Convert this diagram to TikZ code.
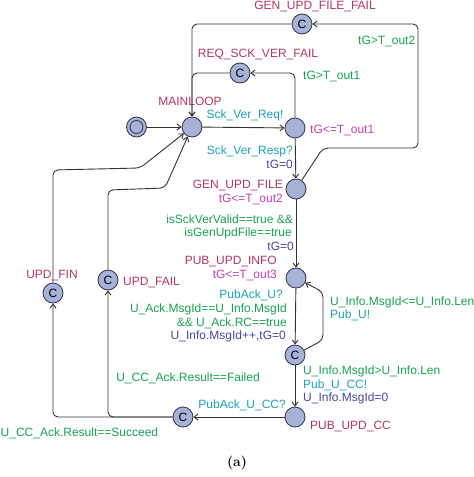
\documentclass[tikz,border=0pt]{standalone}
\usepackage{fontspec}
\setsansfont{Liberation Sans}
\usepackage{tikz}
\usetikzlibrary{arrows.meta}

\definecolor{locname}{RGB}{180,52,104}
\definecolor{invcol}{RGB}{196,64,176}
\definecolor{guardcol}{RGB}{24,164,80}
\definecolor{synccol}{RGB}{24,164,184}
\definecolor{updcol}{RGB}{70,70,168}
\definecolor{locfill}{RGB}{166,178,214}
\definecolor{locline}{RGB}{50,50,80}

\begin{document}
\begin{tikzpicture}[x=1bp, y=-1bp, >={Straight Barb[length=4bp,width=6bp]},
    loc/.style = {circle, draw=locline, fill=locfill, minimum size=20bp, inner sep=0pt, line width=.8bp,
                  font=\sffamily\fontsize{12bp}{12bp}\selectfont},
    edge/.style = {->, draw=black!80, line width=.9bp, rounded corners=5bp},
    lbl/.style = {inner sep=0pt, text height=9bp, text depth=2.5bp, font=\sffamily\fontsize{12bp}{14bp}\selectfont},
    locname/.style = {lbl, text=locname},
    inv/.style = {lbl, text=invcol},
    guard/.style = {lbl, text=guardcol},
    sync/.style = {lbl, text=synccol},
    upd/.style = {lbl, text=updcol}]
    \useasboundingbox (0,0) rectangle (474,477);

    % locations
    \node [loc] (init) at (136.5, 127) {};
    \draw [locline, line width=.8bp] (init.center) circle (6.5bp);
    \node [loc] (ML) at (192, 127) {};
    \node [loc] (S1) at (295, 128) {};
    \node [loc] (REQ) at (240, 73) {C};
    \node [loc] (GUFF) at (302, 24) {C};
    \node [loc] (GUF) at (296, 189) {};
    \node [loc] (PUI) at (296, 278) {};
    \node [loc] (C1) at (295, 355) {C};
    \node [loc] (PUC) at (295, 417) {};
    \node [loc] (C2) at (183, 417) {C};
    \node [loc] (UFAIL) at (108, 280) {C};
    \node [loc] (UFIN) at (53, 293) {C};

    % location names and invariants
    \node [locname] (nML) at (190, 102) {MAINLOOP};
    \node [locname] (nREQ) at (258, 54) {REQ\_SCK\_VER\_FAIL};
    \node [locname] (nGUFF) at (315, 6) {GEN\_UPD\_FILE\_FAIL};
    \node [locname, anchor=east] (nGUF) at (283, 185) {GEN\_UPD\_FILE};
    \node [inv, anchor=east] (iGUF) at (283, 199) {tG<=T\_out2};
    \node [locname, anchor=east] (nPUI) at (277, 261) {PUB\_UPD\_INFO};
    \node [inv, anchor=east] (iPUI) at (277, 275) {tG<=T\_out3};
    \node [inv, anchor=west] (iS1) at (310, 130) {tG<=T\_out1};
    \node [locname, anchor=west] (nPUC) at (310, 426) {PUB\_UPD\_CC};
    \node [locname, anchor=west] (nUFAIL) at (123, 282) {UPD\_FAIL};
    \node [locname] (nUFIN) at (52, 275) {UPD\_FIN};

    % edges
    \draw [edge] (init) -- (ML);
    \draw [edge] (ML) -- (S1);
    \draw [edge] (S1) |- (REQ);
    \draw [edge] (REQ) -| (ML);
    \draw [edge] (GUFF) -| (ML);
    \draw [edge] (S1) -- (GUF);
    \draw [edge] (GUF) -- (323, 148) -- (418, 148) -- (418, 24) -- (GUFF);
    \draw [edge] (GUF) -- (PUI);
    \draw [edge] (PUI) -- (C1);
    \draw [edge] (C1) -- (323, 340) -- (323, 292) -- (PUI);
    \draw [edge] (C1) -- (PUC);
    \draw [edge] (PUC) -- (C2);
    \draw [edge] (C2) -| (UFAIL);
    \draw [edge] (C2) -| (UFIN);
    \draw [edge] (UFAIL) -- (108, 190) -- (165, 188) -- (ML);
    \draw [edge] (UFIN) -- (53, 170) -- (140, 168) -- (ML);

    % edge labels
    \node [sync] (l1) at (245, 115) {Sck\_Ver\_Req!};
    \node [guard, anchor=west] (l2) at (303, 76) {tG>T\_out1};
    \node [guard, anchor=west] (l3) at (358, 41) {tG>T\_out2};
    \node [sync, anchor=east] (l4) at (293, 151) {Sck\_Ver\_Resp?};
    \node [upd, anchor=east] (l5) at (293, 165) {tG=0};
    \node [guard, anchor=east] (l6) at (293, 220) {isSckVerValid==true \&\&};
    \node [guard, anchor=east] (l7) at (292, 233) {isGenUpdFile==true};
    \node [upd, anchor=east] (l8) at (294, 247) {tG=0};
    \node [sync, anchor=east] (l9) at (283, 295) {PubAck\_U?};
    \node [guard, anchor=east] (l10) at (287, 309) {U\_Ack.MsgId==U\_Info.MsgId};
    \node [guard, anchor=east] (l11) at (287, 323) {\&\& U\_Ack.RC==true};
    \node [upd, anchor=east] (l12) at (286, 336) {U\_Info.MsgId++,tG=0};
    \node [guard, anchor=west] (l13) at (330, 302) {U\_Info.MsgId<=U\_Info.Len};
    \node [sync, anchor=west] (l14) at (330, 315) {Pub\_U!};
    \node [guard, anchor=west] (l15) at (303, 371) {U\_Info.MsgId>U\_Info.Len};
    \node [sync, anchor=west] (l16) at (303, 385) {Pub\_U\_CC!};
    \node [upd, anchor=west] (l17) at (303, 398) {U\_Info.MsgId=0};
    \node [sync, anchor=east] (l18) at (286, 405) {PubAck\_U\_CC?};
    \node [guard] (l19) at (188, 378) {U\_CC\_Ack.Result==Failed};
    \node [guard, anchor=west] (l20) at (0.5, 433) {U\_CC\_Ack.Result==Succeed};

    \node [font=\bfseries\fontsize{14bp}{16bp}\selectfont] (cap) at (237, 463) {(a)};
\end{tikzpicture}
\end{document}
